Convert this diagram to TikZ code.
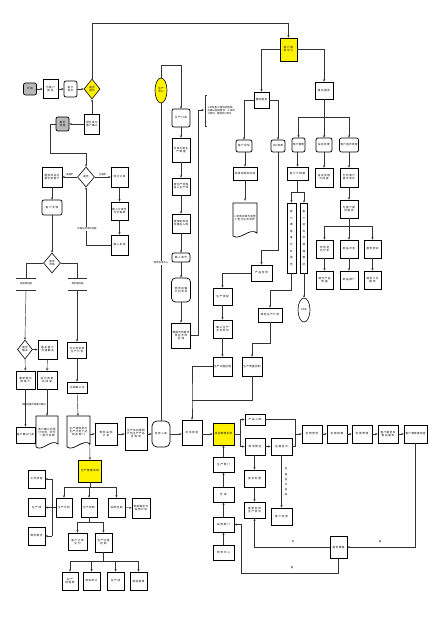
\documentclass[tikz,border=0pt]{standalone}
\usepackage{fontspec}
\newfontfamily\cjk{Noto Sans CJK SC}
\usetikzlibrary{arrows.meta,shapes.geometric,calc}
\XeTeXlinebreaklocale "zh"
\XeTeXlinebreakskip = 0pt plus 1pt
\newcommand\docshape[4]{\draw[blk] (#1,#2) -- (#3,#2) -- (#3,{#4-4}) .. controls ({#1+0.7*(#3-#1)},{#4-10}) and ({#1+0.3*(#3-#1)},{#4+4}) .. (#1,{#4-1}) -- cycle;}
\tikzset{
 base/.style={font=\cjk\fontsize{2.6}{3.0}\selectfont, align=center, inner xsep=0pt, inner ysep=0.3pt},
 bx/.style 2 args={base, draw=black, line width=0.7pt, fill=white, minimum width=#1pt, minimum height=#2pt, text width=#1pt},
 rb/.style 2 args={bx={#1}{#2}, rounded corners=2pt},
 yb/.style 2 args={bx={#1}{#2}, fill=yellow},
 gb/.style 2 args={rb={#1}{#2}, fill=gray!55},
 dm/.style 2 args={base, diamond, draw=black, line width=0.6pt, fill=white, minimum width=#1pt, minimum height=#2pt, inner sep=0pt},
 vt/.style 2 args={bx={#1}{#2}, font=\cjk\fontsize{2.6}{6.6}\selectfont},
 lab/.style={base, font=\cjk\fontsize{2.4}{2.8}\selectfont},
 ln/.style={line width=0.45pt, draw=black!80},
 ar/.style={ln, -{Stealth[length=2.4pt,width=2.1pt]}},
 dc/.style 2 args={base, minimum width=#1pt, minimum height=#2pt, text width=#1pt},
 blk/.style={line width=0.7pt, draw=black, fill=white},
}
\begin{document}
\begin{tikzpicture}[x=1pt,y=-1pt]
\useasboundingbox[fill=white] (0,0) rectangle (440,620);

% ---------------- top left ----------------
\node[gb={13}{12}] (st) at (30,89) {开始};
\node[bx={15}{19}] (a1) at (50.5,89) {与客户\\接洽};
\node[rb={13}{16}] (a2) at (70.5,89) {客户\\询价};
\node[dm={16}{20}, fill=yellow] (d1) at (92,89) {是否\\报价};
\node[bx={15}{20}] (a3) at (92,124) {报价单与\\客户确认};
\node[gb={13}{14}] (a4) at (62.5,124) {报价\\流程};
\draw[ar] (st) -- (a1);
\draw[ar] (a1) -- (a2);
\draw[ar] (a2) -- (d1);
\draw[ar] (a3) -- (d1);
\draw[ar] (a3) -- (a4);

\node[dm={17}{20}] (d2) at (86,177) {是否};
\node[bx={20}{20}] (b1) at (52,177) {提供样品与\\报价给客户};
\node[bx={17}{20}] (b2) at (119.5,177) {成立订单};
\node[rb={20}{15}] (b3) at (52,207.5) {客户反馈};
\node[bx={17}{18}] (b4) at (119.5,211) {输入订单号\\与价格表};
\node[bx={17}{20}] (b5) at (119.5,245) {输入系统};
\draw[ar] (a4.west) -- (50,124) -- (50,153) -- (86,153) -- (d2.north);
\draw[ar] (d2) -- (b1) node[lab, midway, above=0.6pt] {未报价};
\draw[ar] (d2) -- (b2) node[lab, midway, above=0.6pt] {已报价};
\draw[ar] (b1) -- (b3);
\draw[ar] (b2) -- (b4);
\draw[ar] (b4) -- (b5);
\draw[ar] (b5.west) -- (86,245) -- (d2.south);
\node[lab, fill=white, inner sep=0.5pt] at (87,229) {价格与成本的问题};

\node[dm={17}{20}] (d3) at (52,263) {是否\\合格};
\draw[ar] (b3) -- (d3);
\node[lab] (w1) at (26,284) {有品质问题};
\node[lab] (w2) at (77.5,284) {有价格问题};
\draw[ln] (16,278) -- (36,278) (16,290) -- (36,290);
\draw[ln] (68,278) -- (87,278) (68,290) -- (87,290);
\draw[ln] (d3.west) -- (26,263) -- (26,278);
\draw[ln] (d3.east) -- (77,263) -- (77,278);

\node[dm={15}{19}] (d4) at (25,349.5) {能否\\解决};
\node[bx={19}{19}] (c2) at (47.5,349.5) {联系客户\\沟通解决};
\node[bx={19}{18}] (c3) at (25.5,380) {重新报价\\给客户};
\node[bx={20}{18}] (c4) at (47,380) {进行改善\\并回复};
\node[bx={19}{16}] (c5) at (25.5,435) {客户确认订单};
\node[bx={19}{16}] (c1) at (77,350) {与公司协调\\生产计划};
\node[bx={20}{11}] (c6) at (77,387.5) {订单确认书};
\draw[ar] (26,290) -- (d4.north);
\draw[ar] (77,290) -- (c1.north);
\draw[ar] (d4) -- (c2);
\draw[ar] (d4) -- (c3);
\draw[ar] (c2) -- (c4);
\draw[ar] (c3) -- (c5);
\draw[ar] (c1) -- (c6);
\node[lab] at (34,405) {调整后报价给客户确认};

\docshape{36}{416}{58}{448}
\node[dc={21}{32}] (doc1) at (47,432) {客户确认后签\\订合同，支付\\一部分货款};
\docshape{67}{416}{90}{448}
\node[dc={22}{32}] (doc2) at (78.5,432) {生产通知单与\\生产计划下达\\到各部门};
\draw[ar] (c4) -- (doc1);
\draw[ar] (c6) -- (doc2);

% ---------------- main row ----------------
\node[bx={22}{22}] (c7) at (106,434) {物料采购\\计划};
\node[bx={22}{33}] (c8) at (136,433.5) {生产车间按照\\计划生产产品\\并检验};
\node[bx={18}{26}, rounded corners=5pt] (c9) at (161,434) {包装入库};
\node[bx={20}{25}] (c10) at (192,432.5) {出货检验};
\node[yb={21}{22}] (y2) at (223.5,434) {成品管理系统};
\draw[ar] (doc2.east |- c7.west) -- (c7.west);
\draw[ar] (c7) -- (c8.west |- c7.east);
\draw[ar] (c8.east |- c9.west) -- (c9.west);
\draw[ar] (c9.east) -- (c10.west |- c9.east);
\draw[ar] (c10.east |- y2.west) -- (y2.west);

\node[bx={20}{11}] (e1) at (255,419.5) {产品入库};
\node[bx={20}{17}] (e2) at (255,446.5) {物流配送};
\node[bx={21}{17}] (e3) at (281.5,446.5) {运输途中};
\draw[ln] (y2.east) -- (240,434);
\draw[ln] (240,419.5) -- (240,446.5);
\draw[ar] (240,419.5) -- (e1.west);
\draw[ar] (240,446.5) -- (e2.west);
\draw[ar] (e2) -- (e3);
\node[bx={20}{18}] (f1) at (312,434) {货物签收};
\node[bx={20}{18}] (f2) at (337,434) {货款结算};
\node[bx={20}{18}] (f3) at (362,434) {发票管理};
\node[bx={20}{18}] (f4) at (388,434) {客户服务及\\售后服务};
\node[bx={23}{18}] (f5) at (415.5,434) {客户满意度调查};
\draw[ln] (e1.east) -- (295,419.5) -- (295,446.5) -- (e3.east);
\draw[ar] (295,434) -- (f1.west);
\draw[ar] (f1) -- (f2);
\draw[ar] (f2) -- (f3);
\draw[ar] (f3) -- (f4);
\draw[ar] (f4) -- (f5);

\node[bx={17}{22}] (g1) at (338.5,547) {是否满意};
\node[bx={21}{15}] (h1) at (223.5,464.5) {生产部门};
\node[bx={21}{15}] (h2) at (223.5,494.5) {仓库};
\node[bx={21}{15}] (h3) at (223.5,524.5) {采购部门};
\node[bx={21}{15}] (h4) at (223.5,552.5) {财务中心};
\node[bx={21}{17}] (e4) at (254.5,478.5) {退货处理};
\node[bx={21}{16}] (e5) at (254.5,510) {重新安排\\生产发货};
\node[bx={21}{17}] (e6) at (281.5,516.5) {客户验收};
\draw[ar] (h1) -- (y2);
\draw[ar] (h2) -- (h1);
\draw[ar] (h3) -- (h2);
\draw[ar] (h4) -- (h3);
\draw[ar] (e2.south -| e4.north) -- (e4.north);
\draw[ar] (e4) -- (e5);
\draw[ar] (e3) -- (e6);
\node[lab, font=\cjk\fontsize{2.4}{5.2}\selectfont] at (286,482) {运\\输\\途\\中\\追\\踪};
\draw[ar] (f5.south) -- (415.5,547) -- (g1.east);
\node[lab] at (380,541.5) {是};
\draw[ar] (g1.west) -- (254.5,547) -- (e5.south);
\node[lab] at (293,542) {否};
\draw[ar] (g1.south) -- (338.5,573) -- (241,573) -- (241,524.5) -- (h3.east);
\node[lab] at (292,568) {是};

% ---------------- bottom left ----------------
\node[yb={23}{22}] (y3) at (90,471) {生产管理系统};
\draw[ar] ($(doc2.south east)+(0,-4)$) -- (y3.north -| 90,0);
\node[bx={16}{19}] (k1) at (64,507.5) {生产计划};
\node[bx={16}{19}] (k2) at (89,507.5) {生产控制};
\node[bx={17}{19}] (k3) at (116.5,507.5) {品质控制};
\node[bx={18}{20}] (k4) at (141,508) {物料需求与\\采购计划};
\draw[ln] (y3.south) -- (90,487);
\draw[ln] (64,487) -- (116.5,487);
\draw[ar] (64,487) -- (k1.north);
\draw[ar] (89,487) -- (k2.north);
\draw[ar] (116.5,487) -- (k3.north);
\draw[ar] (k3) -- (k4);
\node[bx={17}{18}] (l1) at (36.5,479) {工作排程};
\node[bx={17}{18}] (l2) at (36.5,507.5) {生产线};
\node[bx={17}{18}] (l3) at (36.5,536) {物料需求};
\draw[ln] (k1.west) -- (52,507.5);
\draw[ln] (52,479) -- (52,536);
\draw[ar] (52,479) -- (l1.east);
\draw[ar] (52,507.5) -- (l2.east);
\draw[ar] (52,536) -- (l3.east);
\node[bx={19}{17}] (n1) at (77.5,541.5) {客户订单\\交付};
\node[bx={17}{19}] (n2) at (103.5,542.5) {生产过程\\控制};
\draw[ln] (k2.south) -- (89,522);
\draw[ln] (77.5,522) -- (103.5,522);
\draw[ar] (77.5,522) -- (n1.north);
\draw[ar] (103.5,522) -- (n2.north);
\node[bx={16}{18}] (o1) at (70,581) {生产\\排程表};
\node[bx={17}{18}] (o2) at (91.5,581) {用料统计};
\node[bx={17}{18}] (o3) at (115.5,581) {生产线};
\node[bx={17}{18}] (o4) at (138.5,581) {检验报表};
\draw[ln] (n2.south) -- (103.5,561);
\draw[ln] (70,561) -- (138.5,561);
\draw[ar] (70,561) -- (o1.north);
\draw[ar] (91.5,561) -- (o2.north);
\draw[ar] (115.5,561) -- (o3.north);
\draw[ar] (138.5,561) -- (o4.north);

% ---------------- middle column ----------------
\node[ellipse, draw=black, line width=0.6pt, fill=yellow, minimum width=12pt, minimum height=25pt, inner sep=0pt, base] (m0) at (161,90.5) {生产\\中心};
\node[rb={18}{18}] (m1) at (181,118) {生产订单};
\node[bx={18}{24}] (m2) at (181,150) {分单与审生\\产数量};
\node[bx={18}{17}] (m3) at (181,186.5) {按生产排程\\投入生产线};
\node[bx={18}{19}] (m4) at (181,223.5) {按规定检验\\合格后入库};
\node[rb={18}{9}] (m5) at (181,257.5) {输入单号};
\node[bx={19}{24}, rounded corners=4pt] (m6) at (181,290) {物流运输\\打包发货};
\node[bx={19}{25}] (m7) at (181,335.5) {根据不同需求\\发往不同\\区域};
\draw[ar] (m0.north) -- (161,65) -- (181,65) -- (m1.north);
\draw[ar] (m1) -- (m2);
\draw[ar] (m2) -- (m3);
\draw[ar] (m3) -- (m4);
\draw[ar] (m4) -- (m5);
\draw[ar] (m5) -- (m6);
\draw[ar] (m6) -- (m7);
\draw[ln] (m0.south) -- (c9.north);
\node[lab, fill=white, inner sep=0.4pt] at (161,263) {物流信息中心};
\draw[ar] (m7.east) -- (198,335.5) -- (198,110) -- (204,110);
\draw[ln] (207,95) -- (205,95) -- (205,126) -- (207,126);
\node[lab, text width=28pt, align=left] (note) at (221.5,110.5) {1.如有客户提供的图纸，先确认图纸要求，2.如有订单时，需填写订单号};

% ---------------- top right ----------------
\node[yb={17}{23}] (y1) at (288.5,49.5) {客户服\\务中心};
\draw[ar] (d1.north) -- (92,23) -- (288.5,23) -- (y1.north);
\node[bx={15}{16}] (r1) at (261.5,100) {售前服务};
\node[bx={18}{17}] (r2) at (324,90.5) {售后服务};
\draw[ar] (y1.west) -- (261.5,49.5) -- (r1.north);
\draw[ar] (y1.east) -- (324,49.5) -- (r2.north);
\node[rb={16}{12}] (r3) at (244,146) {客户评估};
\node[rb={14}{12}] (r4) at (278,146) {ISO标准};
\draw[ar] (r1.west) -- (244,100) -- (r3.north);
\draw[ar] (r1.east) -- (278,100) -- (r4.north);
\node[bx={24}{13}] (r5) at (245,173.5) {选择合格供应商};
\draw[ar] (r3.south -| r5.north) -- (r5.north);
\docshape{233}{203}{257}{237}
\node[dc={23}{34}] (doc3) at (245,218) {1.合同评审与会签\\2.签订正式合同};
\draw[ar] (r5) -- (doc3);
\node[bx={21}{16}] (p1) at (261.5,273) {产品合同};
\draw[ar] (r4.south) -- (278,250) -- (261.5,250) -- (p1.north);
\node[bx={19}{17}] (p2) at (222.5,296.5) {生产排程};
\node[bx={19}{18}] (p3) at (222.5,329) {确认生产\\交货时间};
\node[bx={19}{19}] (p4) at (222.5,366.5) {生产过程控制};
\node[bx={24}{14}] (p5) at (270,315) {审定生产计划};
\node[bx={20}{19}] (p6) at (252,366.5) {生产质量控制};
\draw[ar] (p1.west) -- (222.5,273) -- (p2.north);
\draw[ar] (p2) -- (p3);
\draw[ar] (p3) -- (p4);
\draw[ar] (p5.south) -- (270,343) -- (252,343) -- (p6.north);
\draw[ar] (p4.west) -- (192,366.5) -- (192,400) -- (c10.north -| 192,0);
\draw[ln] (p6.south) -- (252,400) -- (192,400);

\node[rb={13}{14}] (q1) at (298.5,145) {客户满意};
\node[rb={16}{14}] (q2) at (324,145) {投诉处理};
\node[rb={19}{14}] (q3) at (349,145) {客户回访调查};
\draw[ln] (r2.south) -- (324,117);
\draw[ln] (298.5,117) -- (349,117);
\draw[ar] (298.5,117) -- (q1.north);
\draw[ar] (324,117) -- (q2.north);
\draw[ar] (349,117) -- (q3.north);
\node[bx={21}{13}] (q4) at (297.5,173.5) {客户户档案};
\draw[ar] (q1.south -| q4.north) -- (q4.north);
\node[vt={9}{70}] (v1) at (291.5,238) {客\\户\\满\\意\\度\\分\\析\\报\\告};
\node[vt={7}{70}] (v2) at (304,238) {客\\户\\资\\料\\存\\档\\保\\管\\好};
\draw[ln] (q4.south -| 297.5,0) -- (297.5,192);
\draw[ln] (291.5,192) -- (304,192);
\draw[ar] (291.5,192) -- (v1.north);
\draw[ar] (304,192) -- (v2.north);
\node[ellipse, draw=black, line width=0.6pt, fill=white, minimum width=12pt, minimum height=24pt, inner sep=0pt, base] (end) at (304,310) {END};
\draw[ar] (v2) -- (end);
\draw[ar] (v1.south) -- (291.5,290) -- (270,290) -- (p5.north);

\node[bx={18}{19}] (q5) at (324,177.5) {投诉处理\\与回复};
\node[bx={18}{19}] (q6) at (349,177.5) {分析客户\\需求变化};
\node[bx={18}{18}] (q7) at (349,209) {为客户提\\供服务};
\draw[ar] (q2) -- (q5);
\draw[ar] (q3) -- (q6);
\draw[ar] (q6) -- (q7);
\draw[ln] (q7.south) -- (349,226);
\draw[ln] (324.5,226) -- (372.5,226);
\node[bx={17}{18}] (s1) at (324.5,249) {市场变\\化分析};
\node[bx={18}{18}] (s2) at (349,249) {新品开发};
\node[bx={17}{18}] (s3) at (372.5,249) {服务培训};
\node[bx={17}{18}] (t1) at (324.5,280) {提升产品\\质量};
\node[bx={18}{18}] (t2) at (349,280) {新品推广};
\node[bx={17}{18}] (t3) at (372.5,280) {提供二次\\服务};
\draw[ar] (324.5,226) -- (s1.north);
\draw[ar] (349,226) -- (s2.north);
\draw[ar] (372.5,226) -- (s3.north);
\draw[ar] (s1) -- (t1);
\draw[ar] (s2) -- (t2);
\draw[ar] (s3) -- (t3);
\end{tikzpicture}
\end{document}
